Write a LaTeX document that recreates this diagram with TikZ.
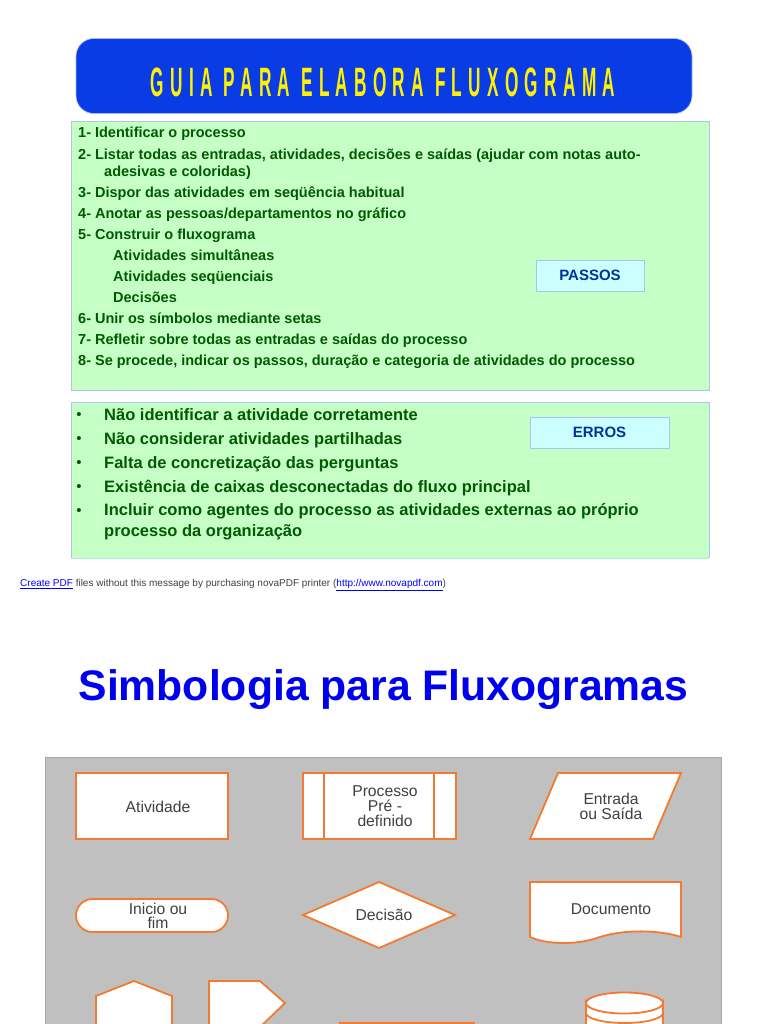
\documentclass[tikz,border=0pt]{standalone}
\usepackage{fontspec}
\setmainfont{Liberation Sans}
\newfontfamily\spacedfont[LetterSpace=36.5,Scale=1]{Liberation Sans}
\usetikzlibrary{shapes.geometric}
\definecolor{bluetitle}{HTML}{0A3CE6}
\definecolor{titleedge}{HTML}{9DB8F5}
\definecolor{greenfill}{HTML}{C6FFC6}
\definecolor{greenedge}{HTML}{A9C4F5}
\definecolor{greentext}{HTML}{005A00}
\definecolor{cyanfill}{HTML}{CCFFFF}
\definecolor{labeltext}{HTML}{003399}
\definecolor{panelgray}{HTML}{C0C0C0}
\definecolor{paneledge}{HTML}{A8A8A8}
\definecolor{shapeedge}{HTML}{F47A30}
\definecolor{shapetext}{HTML}{404040}
\definecolor{headblue}{HTML}{0000F0}
\tikzset{
  passo/.style={anchor=base west,inner sep=0pt,text=greentext,font=\bfseries\fontsize{14.5}{15}\selectfont},
  erro/.style={anchor=base west,inner sep=0pt,text=greentext,font=\bfseries\fontsize{16.5}{18}\selectfont},
  bul/.style={anchor=center,inner sep=0pt,text=greentext,font=\fontsize{15}{18}\selectfont},
  tagbox/.style={draw=greenedge,line width=1pt,fill=cyanfill,inner sep=0pt,text=labeltext,font=\bfseries\fontsize{15}{16}\selectfont},
  flow/.style={draw=shapeedge,line width=1.8pt,fill=white,line join=miter},
  shapelabel/.style={inner sep=0pt,align=center,text=shapetext,font=\fontsize{15.7}{15}\selectfont},
  foot/.style={inner sep=0pt,anchor=west,font=\fontsize{10}{11}\selectfont}
}
\begin{document}
\begin{tikzpicture}[x=1pt,y=-1pt]
\useasboundingbox (0,0) rectangle (768,1024);
\fill[white] (0,0) rectangle (768,1024);
% title
\node[draw=titleedge,line width=.6pt,fill=bluetitle,rounded corners=18pt,minimum width=616pt,minimum height=75pt,inner sep=0pt] (titlebar) at (384,76) {};
\node[inner sep=0pt,text=yellow] (titletext) at (383,82) {\scalebox{0.42}[1]{\spacedfont\bfseries\fontsize{41}{44}\selectfont GUIA PARA ELABORA FLUXOGRAMA}};
% box 1
\node[draw=greenedge,line width=1pt,fill=greenfill,minimum width=638pt,minimum height=268pt,inner sep=0pt] (box1) at (390,256) {};
\node[passo] (p1) at (78,137.5) {1- Identificar o processo};
\node[passo] (p2) at (78,159.5) {2- Listar todas as entradas, atividades, decisões e saídas (ajudar com notas auto-};
\node[passo] (p2b) at (104,176.5) {adesivas e coloridas)};
\node[passo] (p3) at (78,197.5) {3- Dispor das atividades em seqüência habitual};
\node[passo] (p4) at (78,218.5) {4- Anotar as pessoas/departamentos no gráfico};
\node[passo] (p5) at (78,239.5) {5- Construir o fluxograma};
\node[passo] (p5a) at (113,260) {Atividades simultâneas};
\node[passo] (p5b) at (113,281) {Atividades seqüenciais};
\node[passo] (p5c) at (113,302) {Decisões};
\node[passo] (p6) at (78,323) {6- Unir os símbolos mediante setas};
\node[passo] (p7) at (78,344) {7- Refletir sobre todas as entradas e saídas do processo};
\node[passo] (p8) at (78,365) {8- Se procede, indicar os passos, duração e categoria de atividades do processo};
\node[tagbox,minimum width=108pt,minimum height=31pt] (passos) at (590,275.5) {PASSOS};
% box 2
\fill[greenfill] (71,402) rectangle (709,558);
\draw[greenedge,line width=1pt] (71,558) -- (71,402) -- (709,402) -- (709,558);
\draw[greenedge!40!greenfill,line width=.6pt] (71,558) -- (709,558);
\foreach \yy/\nn in {416/a,440/b,464/c,488/d,512/e}{\node[bul] (bul\nn) at (79,\yy) {•};}
\node[erro] (e1) at (104,420) {Não identificar a atividade corretamente};
\node[erro] (e2) at (104,444) {Não considerar atividades partilhadas};
\node[erro] (e3) at (104,468) {Falta de concretização das perguntas};
\node[erro] (e4) at (104,492) {Existência de caixas desconectadas do fluxo principal};
\node[erro] (e5) at (104,515) {Incluir como agentes do processo as atividades externas ao próprio};
\node[erro] (e5b) at (104,536) {processo da organização};
\node[tagbox,minimum width=139pt,minimum height=31pt] (erros) at (599.5,432.5) {ERROS};
% footer
\node[foot] (footer) at (20,585) {\textcolor{blue}{\underline{Create PDF}} \textcolor{shapetext}{files without this message by purchasing novaPDF printer (}\textcolor{blue}{\underline{http://www.novapdf.com}}\textcolor{shapetext}{)}};
% heading
\node[inner sep=0pt,text=headblue,font=\bfseries\fontsize{42.7}{46}\selectfont] (heading) at (383.5,690) {Simbologia para Fluxogramas};
% panel
\fill[panelgray] (45,757) rectangle (721,1026);
\draw[paneledge,line width=1pt] (45,1026) -- (45,757) -- (721,757) -- (721,1026);
% row 1
\node[flow,minimum width=152pt,minimum height=66pt,inner sep=0pt] (ativ) at (152,806) {};
\node[shapelabel] (ativt) at (158,807) {Atividade};
\node[flow,minimum width=153pt,minimum height=66pt,inner sep=0pt] (proc) at (379.5,806) {};
\draw[shapeedge,line width=1.8pt] (324,773) -- (324,839) (434,773) -- (434,839);
\node[shapelabel] (proct) at (385,806) {Processo\\Pré -\\definido};
\draw[flow] (558,773) -- (681,773) -- (653,839) -- (530,839) -- cycle;
\node[shapelabel] (entt) at (611,806) {Entrada\\ou Saída};
% row 2
\draw[flow] (92.5,899) -- (211.5,899) arc[start angle=270,end angle=450,x radius=16.5,y radius=16.5] -- (92.5,932) arc[start angle=90,end angle=270,x radius=16.5,y radius=16.5] -- cycle;
\node[shapelabel,font=\fontsize{15.7}{14}\selectfont] (termt) at (158,916) {Inicio ou\\fim};
\draw[flow] (303,915) -- (379,882) -- (455,915) -- (379,948) -- cycle;
\node[shapelabel] (dect) at (384,915) {Decisão};
\draw[flow] (530,882) -- (681,882) -- (681,937) .. controls (660,930) and (625,929) .. (600,937) .. controls (578,945) and (548,945) .. (530,937) -- cycle;
\node[shapelabel] (doct) at (611,909) {Documento};
% row 3
\draw[flow] (96,1030) -- (96,996) -- (134,981) -- (172,996) -- (172,1030);
\draw[flow] (209,1030) -- (209,981) -- (260,981) -- (285,1003) -- (257,1030);
\draw[flow] (340,1030) -- (340,1023) -- (474,1023) -- (474,1030);
\draw[flow] (586,1030) -- (586,1003) arc[start angle=180,end angle=0,x radius=38.5,y radius=10] -- (663,1030);
\draw[flow] (624.5,1003) ellipse[x radius=38.5,y radius=10.5];
\draw[shapeedge,line width=1.8pt] (586,1013) arc[start angle=180,end angle=0,x radius=38.5,y radius=10];
\end{tikzpicture}
\end{document}
